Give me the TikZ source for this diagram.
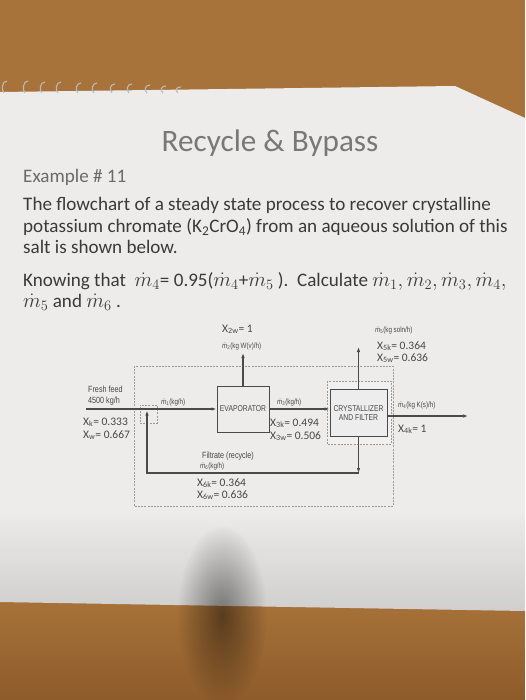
\documentclass[tikz,border=0pt]{standalone}
\usepackage{fontspec}
\setmainfont{Carlito}
\newfontfamily\cond[FakeStretch=0.8]{Liberation Sans}
\usetikzlibrary{arrows.meta,fadings}
\tikzfading[name=softblob, inner color=transparent!0, outer color=transparent!100]
\newcommand{\mdot}{\textit{\.m}}
\definecolor{wood}{HTML}{A8733A}
\definecolor{woodd}{HTML}{8E5C2B}
\definecolor{paper}{HTML}{EDECEA}
\definecolor{titlec}{HTML}{787878}
\definecolor{exc}{HTML}{6A6A6A}
\definecolor{bodyc}{HTML}{3A3A3A}
\definecolor{linec}{HTML}{4A4A4A}
\definecolor{dtext}{HTML}{474747}
\definecolor{dashc}{HTML}{9A9A9A}
\begin{document}
\begin{tikzpicture}[x=1pt,y=-1pt,
  flow/.style={draw=linec, line width=1.3pt, -{Latex[length=5pt,width=3.5pt]}},
  unit/.style={draw=linec, line width=1pt, fill=paper, inner sep=0, align=center,
    text=dtext, font=\cond\fontsize{8.5}{9.5}\selectfont},
  dbox/.style={draw=dashc, line width=0.8pt, dash pattern=on 2pt off 1.2pt},
  bodyt/.style={inner sep=0, anchor=base west, text=bodyc, font=\fontsize{19.1}{20}\selectfont},
  xl/.style={inner sep=0, anchor=base west, text=dtext, font=\fontsize{11.5}{12}\selectfont},
  cl/.style={inner sep=0, anchor=base west, text=dtext, font=\cond\fontsize{9}{10}\selectfont},
  ml/.style={inner sep=0, anchor=base west, text=dtext, font=\cond\fontsize{7.8}{8}\selectfont},
  spiral/.style={draw=gray!55, line width=1.1pt}]
\useasboundingbox (0,0) rectangle (525,700);
% background: wood and paper
\fill[wood] (0,0) rectangle (525,700);
\fill[woodd, path fading=north] (0,600) rectangle (525,700);
\fill[paper] (0,92) -- (455,86) -- (525,118) -- (525,611) -- (0,602) -- cycle;
\fill[black, opacity=0.12, path fading=north] (0,510) -- (525,510) -- (525,611) -- (0,602) -- cycle;
\fill[black, opacity=0.45, path fading=softblob] (222,615) ellipse (45 and 90);
% spiral binding
\foreach \x/\h in {4/12,25/12,42/11,58/11,78/10,94/10,112/9,129/9,147/8,163/7,178/6}{
  \draw[spiral] (\x,93) .. controls (\x-3,90) and (\x-2,93-\h) .. (\x+3,93-\h);
}
% slide text
\node[inner sep=0, anchor=base, text=titlec, font=\fontsize{31.2}{32}\selectfont] (title) at (270,151.5) {Recycle \& Bypass};
\node[bodyt, text=exc] (ex) at (23,182.5) {Example \# 11};
\node[bodyt] (p1) at (23,210.7) {The flowchart of a steady state process to recover crystalline};
\node[bodyt] (p2) at (23,232.7) {potassium chromate (K\textsubscript{2}CrO\textsubscript{4}) from an aqueous solution of this};
\node[bodyt] (p3) at (23,254) {salt is shown below.};
\node[bodyt] (k1) at (23,286.7) {Knowing that\ \ $\dot{m}_4$= 0.95($\dot{m}_4$+$\dot{m}_5$ ).\ \ Calculate $\dot{m}_1, \dot{m}_2, \dot{m}_3, \dot{m}_4,$};
\node[bodyt] (k2) at (23,307.3) {$\dot{m}_5$ and $\dot{m}_6$ .};
% flowchart
\draw[dbox] (134,366) rectangle (393,506);
\draw[dbox, fill=black!6] (327,381) rectangle (391,444);
\node[dbox, minimum width=17pt, minimum height=18pt, inner sep=0] (mixer) at (148.5,414) {};
\node[unit, minimum width=52pt, minimum height=46pt] (evap) at (243,409) {EVAPORATOR};
\node[unit, fill=black!7, minimum width=57pt, minimum height=47pt] (cryst) at (358.5,413) {CRYSTALLIZER\\AND FILTER};
\coordinate (feedin) at (86,409);
\coordinate (v2) at (243,353);
\coordinate (v5) at (358.5,347);
\coordinate (out4) at (468,416);
\coordinate (rc1) at (358.5,473);
\coordinate (rc2) at (147,473);
\coordinate (mixin) at (147,410.5);
\draw[flow] (feedin) -- (evap.west);
\draw[flow] (evap.north) -- (v2);
\draw[flow] (evap.east) -- (evap.east -| cryst.west);
\draw[flow] (cryst.north) -- (v5);
\draw[flow] (cryst.east |- out4) -- (out4);
\draw[flow] (cryst.south) -- (rc1);
\draw[flow] (rc1) -- (rc2) -- (mixin);
% labels
\node[xl] (x2w) at (222,332) {X\textsubscript{2w}= 1};
\node[ml] (m2) at (222,348) {\mdot\textsubscript{2}(kg W(v)/h)};
\node[ml] (m5) at (375,332) {\mdot\textsubscript{5}(kg soln/h)};
\node[xl] (x5k) at (377,349) {X\textsubscript{5k}= 0.364};
\node[xl] (x5w) at (377,361) {X\textsubscript{5w}= 0.636};
\node[cl] (ff) at (88,392) {Fresh feed};
\node[cl] (ff2) at (88,403) {4500 kg/h};
\node[xl] (xk) at (83,425) {X\textsubscript{k}= 0.333};
\node[xl] (xw) at (83,438) {X\textsubscript{w}= 0.667};
\node[ml] (m1) at (161,404) {\mdot\textsubscript{1}(kg/h)};
\node[ml] (m3) at (277,404) {\mdot\textsubscript{3}(kg/h)};
\node[xl] (x3k) at (270,426) {X\textsubscript{3k}= 0.494};
\node[xl] (x3w) at (270,439) {X\textsubscript{3w}= 0.506};
\node[ml] (m4) at (398,407) {\mdot\textsubscript{4}(kg K(s)/h)};
\node[xl] (x4k) at (398,432) {X\textsubscript{4k}= 1};
\node[cl] (fil) at (202,458) {Filtrate (recycle)};
\node[ml] (m6) at (200,468) {\mdot\textsubscript{6}(kg/h)};
\node[xl] (x6k) at (197,486) {X\textsubscript{6k}= 0.364};
\node[xl] (x6w) at (197,498) {X\textsubscript{6w}= 0.636};
\end{tikzpicture}
\end{document}
